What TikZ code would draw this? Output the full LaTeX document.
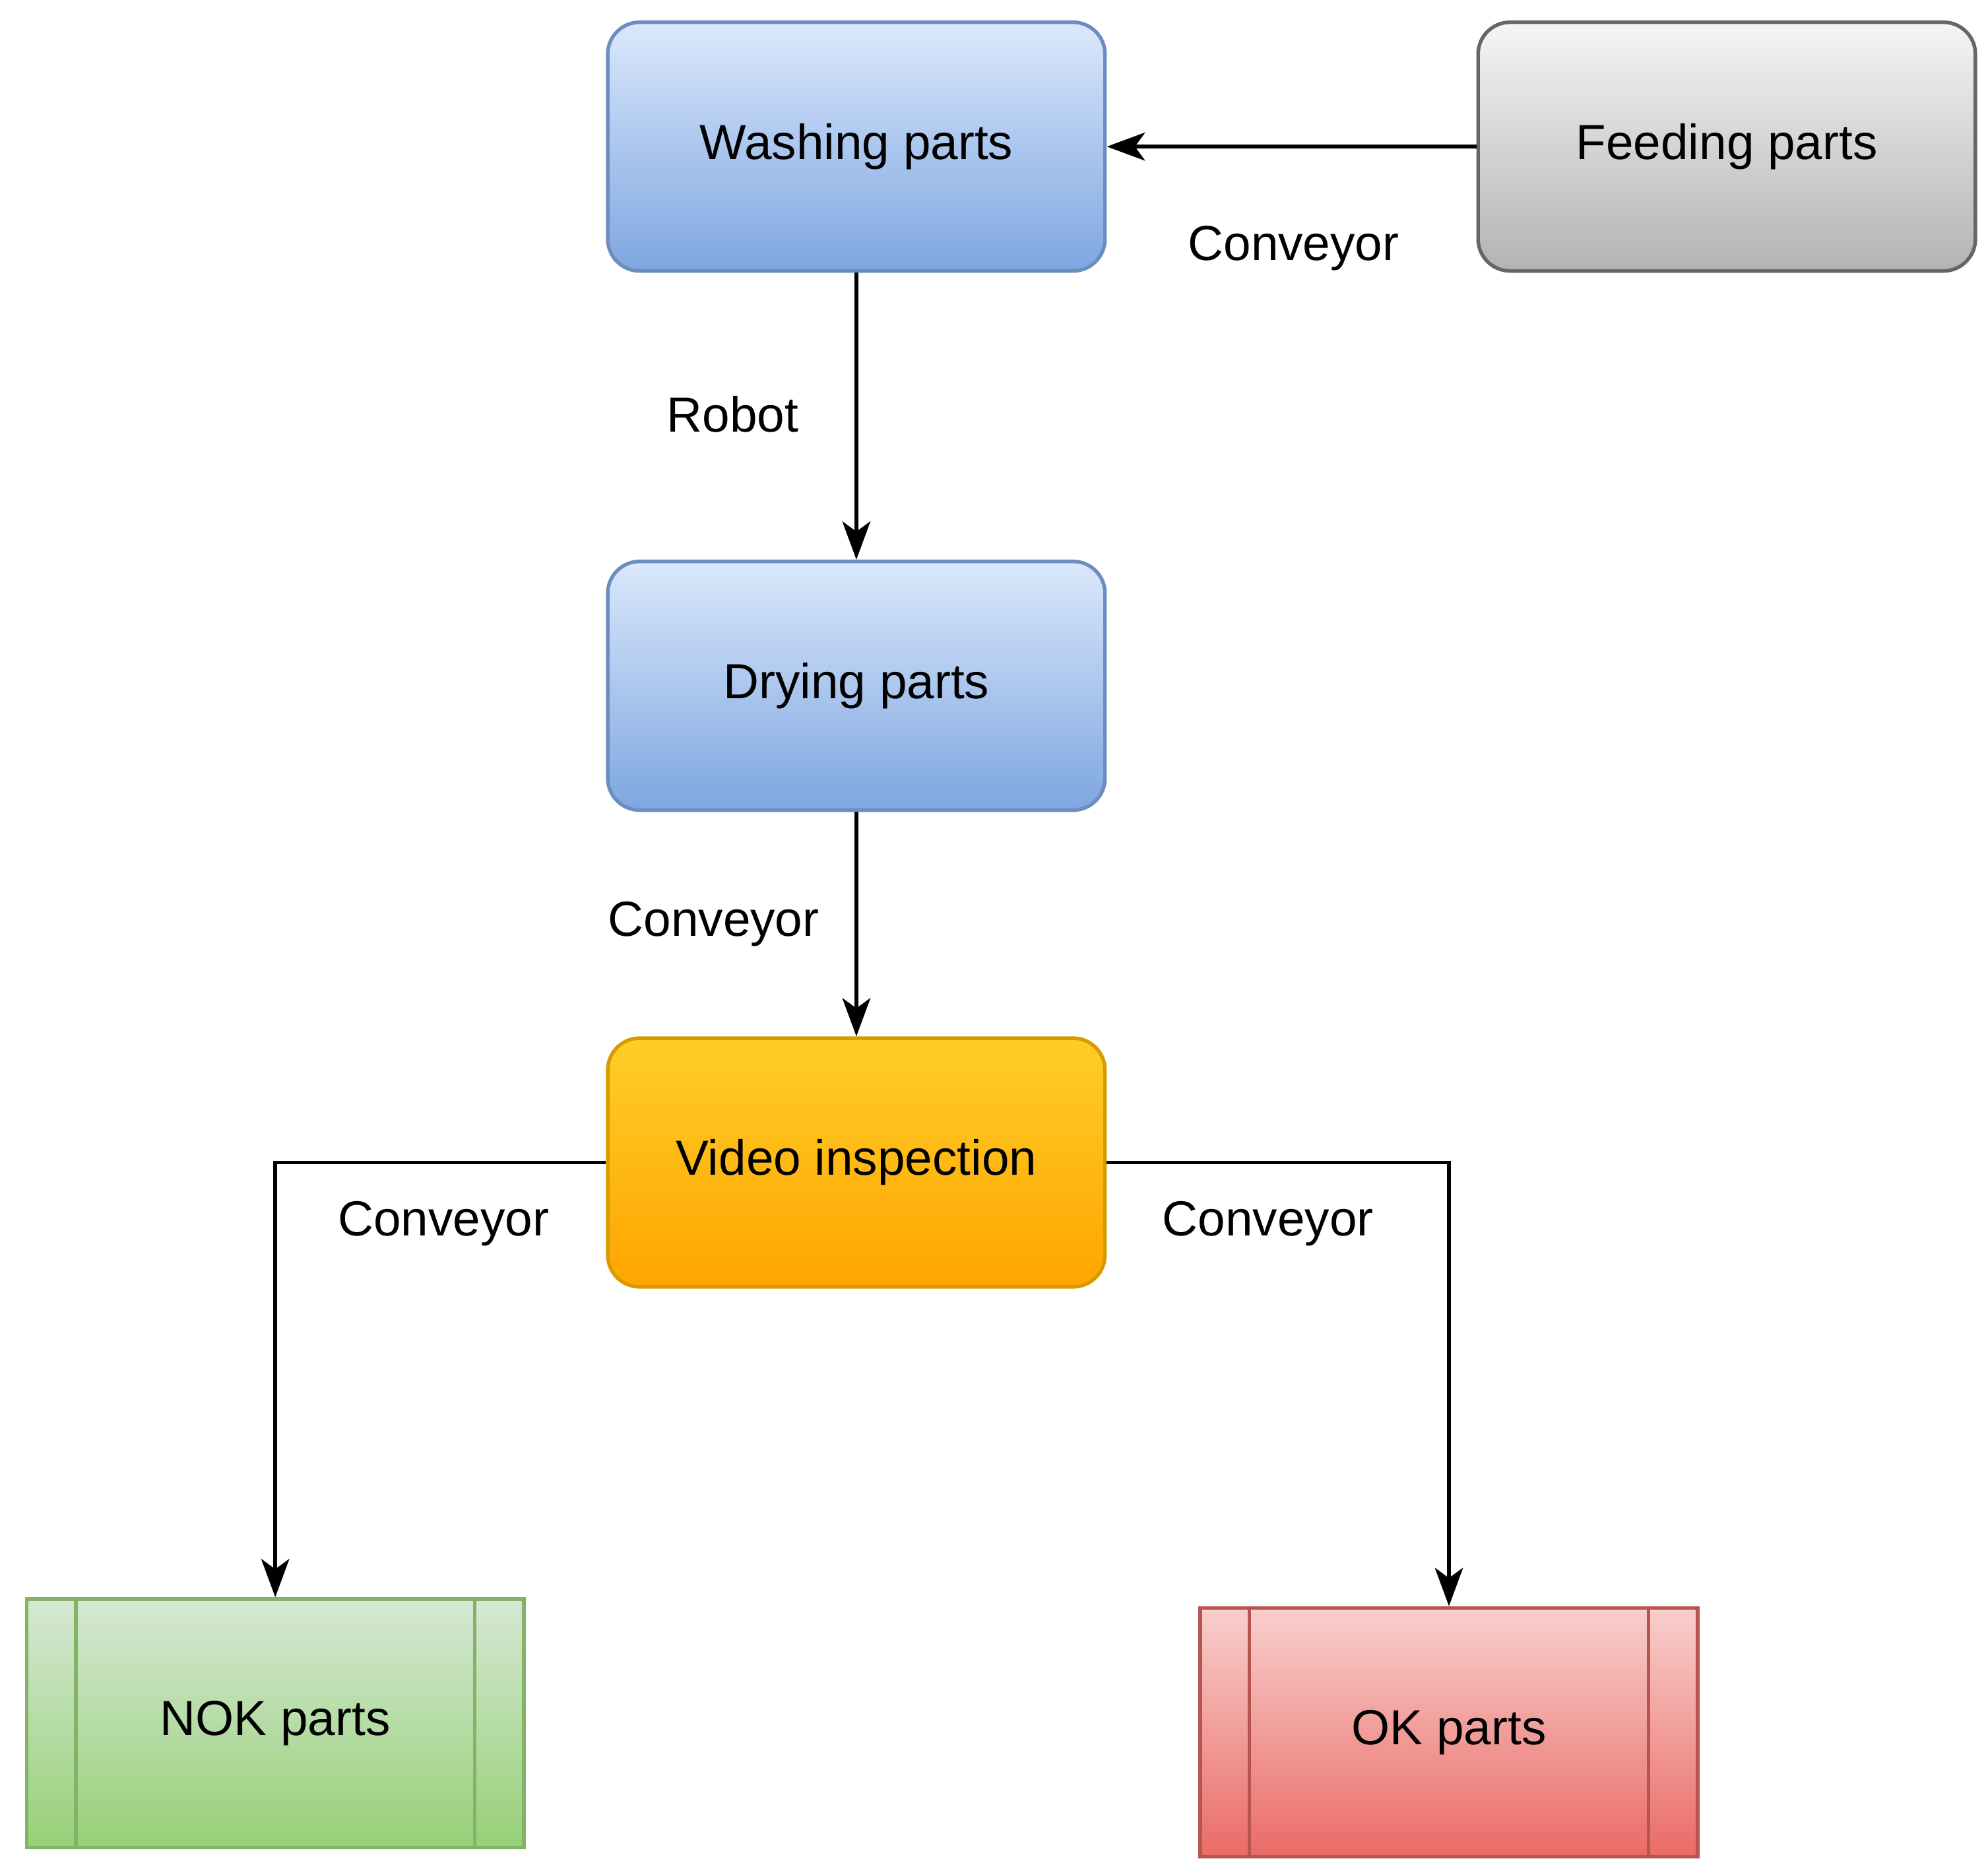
\documentclass[tikz,border=0pt]{standalone}
\usepackage{fontspec}
\setmainfont{Liberation Sans}
\usetikzlibrary{arrows.meta}
\definecolor{bluetop}{HTML}{DAE8FC}\definecolor{bluebot}{HTML}{7EA6E0}\definecolor{bluedr}{HTML}{6C8EBF}
\definecolor{graytop}{HTML}{F5F5F5}\definecolor{graybot}{HTML}{B3B3B3}\definecolor{graydr}{HTML}{666666}
\definecolor{yeltop}{HTML}{FFCD28}\definecolor{yelbot}{HTML}{FFA500}\definecolor{yeldr}{HTML}{D79B00}
\definecolor{grntop}{HTML}{D5E8D4}\definecolor{grnbot}{HTML}{97D077}\definecolor{grndr}{HTML}{82B366}
\definecolor{redtop}{HTML}{F8CECC}\definecolor{redbot}{HTML}{EA6B66}\definecolor{reddr}{HTML}{B85450}
\begin{document}
\begin{tikzpicture}[x=0.01cm,y=-0.01cm,
  box/.style={minimum width=3.9cm,minimum height=1.95cm,inner sep=0pt,line width=0.8pt,
    font=\fontsize{11}{13}\selectfont},
  proc/.style={box,rounded corners=0.25cm},
  store/.style={box},
  lbl/.style={font=\fontsize{11}{13}\selectfont,inner sep=1pt},
  arr/.style={line width=0.8pt,-{Stealth[length=0.3cm,width=0.22cm,inset=0.08cm]}}]
\useasboundingbox (0,0) rectangle (1560,1466);
\node[proc,draw=bluedr,top color=bluetop,bottom color=bluebot] (wash) at (672,115) {Washing parts};
\node[proc,draw=graydr,top color=graytop,bottom color=graybot] (feed) at (1355,115) {Feeding parts};
\node[proc,draw=bluedr,top color=bluetop,bottom color=bluebot] (dry) at (672,538) {Drying parts};
\node[proc,draw=yeldr,top color=yeltop,bottom color=yelbot] (video) at (672,912) {Video inspection};
\node[store,draw=grndr,top color=grntop,bottom color=grnbot] (nok) at (216,1352) {NOK parts};
\node[store,draw=reddr,top color=redtop,bottom color=redbot] (ok) at (1137,1359) {OK parts};
\draw[grndr,line width=0.8pt] ([xshift=0.4cm]nok.north west) -- ([xshift=0.4cm]nok.south west)
  ([xshift=-0.4cm]nok.north east) -- ([xshift=-0.4cm]nok.south east);
\draw[reddr,line width=0.8pt] ([xshift=0.4cm]ok.north west) -- ([xshift=0.4cm]ok.south west)
  ([xshift=-0.4cm]ok.north east) -- ([xshift=-0.4cm]ok.south east);
\draw[arr] (feed) -- (wash);
\draw[arr] (wash) -- (dry);
\draw[arr] (dry) -- (video);
\draw[arr] (video.west) -| (nok.north);
\draw[arr] (video.east) -| (ok.north);
\node[lbl] (l1) at (1015,195) {Conveyor};
\node[lbl] (l2) at (575,325) {Robot};
\node[lbl] (l3) at (560,725) {Conveyor};
\node[lbl] (l4) at (348,960) {Conveyor};
\node[lbl] (l5) at (995,960) {Conveyor};
\end{tikzpicture}
\end{document}
